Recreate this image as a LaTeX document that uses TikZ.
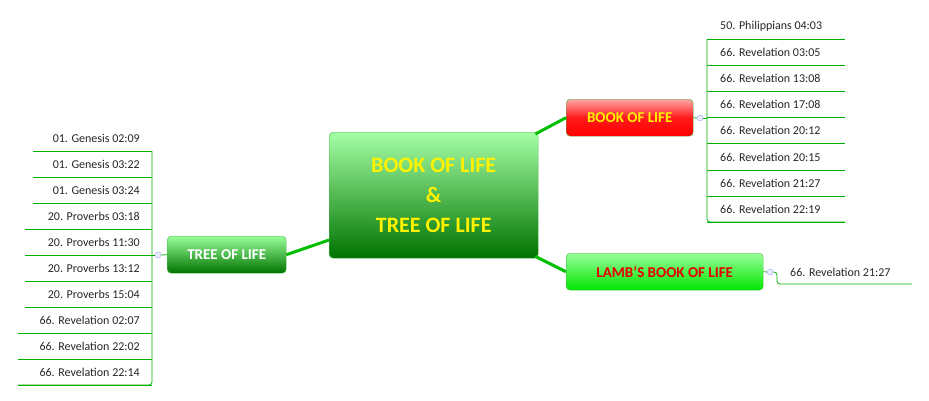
\documentclass[tikz,border=0pt]{standalone}
\usepackage{fontspec}
\setmainfont{Carlito}
\begin{document}
\begin{tikzpicture}[x=1pt,y=-1pt,
  box/.style={draw=green!60!black!70,rounded corners=4pt,font=\bfseries,inner sep=0pt,anchor=north west},
  leaf/.style={font=\fontsize{12}{14}\selectfont,inner sep=0pt,text=black!85},
  ul/.style={draw=green!70!black,line width=0.8pt,rounded corners=3pt},
  conn/.style={draw=green!75!black,line width=3pt},
  knob/.style={circle,draw=blue!35,fill=blue!8,inner sep=0pt,minimum size=6pt}]
\useasboundingbox (0,0) rectangle (929,400);
% main boxes
\node[box,minimum width=209pt,minimum height=126pt,top color=green!35!white,bottom color=green!45!black,
  text=yellow,font=\bfseries\fontsize{22}{30}\selectfont,align=center] (c) at (329,132) {BOOK OF LIFE\\\&\\TREE OF LIFE};
\node[box,minimum width=127pt,minimum height=37pt,top color=red!35!white,bottom color=red,middle color=red!90!white,
  text=yellow,font=\bfseries\fontsize{15}{18}\selectfont] (b) at (566,99) {BOOK OF LIFE};
\node[box,minimum width=197pt,minimum height=37pt,top color=green!40!white,bottom color=green!90!black,
  text=red!90!black,font=\bfseries\fontsize{15}{18}\selectfont] (l) at (566,253) {LAMB'S BOOK OF LIFE};
\node[box,minimum width=119pt,minimum height=37pt,top color=green!40!white,bottom color=green!45!black,
  text=white,font=\bfseries\fontsize{15}{18}\selectfont] (t) at (167,236) {TREE OF LIFE};
% connectors
\draw[conn] (c.north east)++(-3,2) -- (b.west);
\draw[conn] (c.south east)++(-3,-2) -- (l.west);
\draw[conn] (c.west |- 0,240) -- (t.east);
% knobs
\node[knob] (kb) at (700,118) {};
\node[knob] (kl) at (770,272) {};
\node[knob] (kt) at (158,255) {};
\draw[ul] (b.east) -- (kb.west);
\draw[ul] (l.east) -- (kl.west);
\draw[ul] (t.west) -- (kt.east);
% right list
\foreach \i/\txt in {1/50. Philippians 04:03,2/66. Revelation 03:05,3/66. Revelation 13:08,4/66. Revelation 17:08,
  5/66. Revelation 20:12,6/66. Revelation 20:15,7/66. Revelation 21:27,8/66. Revelation 22:19}{
  \node[leaf,anchor=west] (r\i) at (720,{26+26.2*(\i-1)}) {\txt};
  \draw[ul] (707,{39+26.2*(\i-1)}) -- (845,{39+26.2*(\i-1)});
}
\draw[ul] (kb.east) -- (707,118);
\draw[ul] (707,39) -- (707,222) -- (845,222);
% lamb leaf
\node[leaf,anchor=west] (lr) at (790,272) {66. Revelation 21:27};
\draw[ul] (kl.east) -- (777,272) -- (777,284) -- (912,284);
% left list
\foreach \i/\txt/\xl in {1/01. Genesis 02:09/33,2/01. Genesis 03:22/33,3/01. Genesis 03:24/33,4/20. Proverbs 03:18/25,
  5/20. Proverbs 11:30/25,6/20. Proverbs 13:12/25,7/20. Proverbs 15:04/25,8/66. Revelation 02:07/18,
  9/66. Revelation 22:02/18,10/66. Revelation 22:14/18}{
  \node[leaf,anchor=east] (lt\i) at (140,{138+26*(\i-1)}) {\txt};
  \draw[ul] (\xl,{151+26*(\i-1)}) -- (152,{151+26*(\i-1)});
}
\draw[ul] (kt.west) -- (152,255);
\draw[ul] (18,385) -- (152,385) -- (152,151);
\end{tikzpicture}
\end{document}
